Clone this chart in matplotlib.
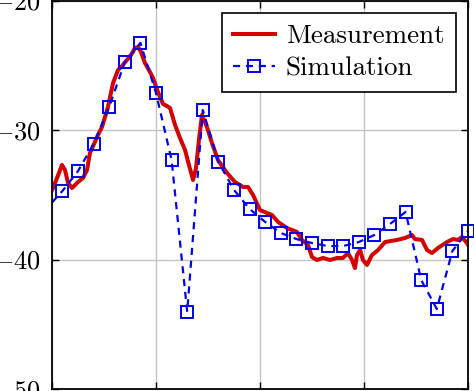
import matplotlib
matplotlib.use("Agg")
import matplotlib.pyplot as plt

# =========================
# data
# =========================

meas_x = [0.000, 0.010, 0.048, 0.096, 0.125, 0.154, 0.192, 0.250, 0.298, 0.337,
          0.365, 0.404, 0.442, 0.481, 0.538, 0.587, 0.635, 0.673, 0.721, 0.760,
          0.798, 0.827, 0.856, 0.894, 0.942, 0.971, 1.019, 1.067, 1.106, 1.135,
          1.183, 1.231, 1.279, 1.317, 1.356, 1.385, 1.413, 1.442, 1.490, 1.538,
          1.596, 1.683, 1.760, 1.837, 1.885, 1.933, 2.000, 2.067, 2.115, 2.173,
          2.260, 2.356, 2.404, 2.462, 2.500, 2.548, 2.606, 2.673, 2.740, 2.798,
          2.846, 2.885, 2.913, 2.933, 2.962, 2.990, 3.029, 3.077, 3.135, 3.202,
          3.317, 3.394, 3.462, 3.490, 3.558, 3.606, 3.654, 3.712, 3.798, 3.856,
          3.904, 3.942, 3.990, 4.019]
meas_y = [-34.63, -34.48, -33.71, -32.70, -33.09, -34.09, -34.48, -34.02, -33.71, -33.09,
          -31.78, -31.08, -30.39, -29.77, -28.22, -26.37, -25.37, -25.06, -24.59, -24.21,
          -23.67, -23.59, -23.98, -24.83, -25.52, -25.98, -27.07, -27.99, -28.15, -28.30,
          -29.61, -30.62, -31.54, -32.70, -33.86, -32.93, -30.77, -28.84, -29.77, -31.00,
          -32.32, -33.32, -34.02, -34.40, -34.40, -35.02, -36.18, -36.41, -36.56, -37.10,
          -37.57, -37.88, -38.50, -38.88, -39.81, -40.04, -39.88, -40.04, -39.88, -39.88,
          -39.50, -40.04, -40.66, -39.65, -39.27, -40.04, -40.42, -39.65, -39.27, -38.65,
          -38.49, -38.34, -38.11, -38.42, -38.49, -39.27, -39.50, -39.11, -38.65, -38.42,
          -38.49, -38.26, -38.73, -39.11]

sim_x = [0.00, 0.10, 0.25, 0.40, 0.55, 0.70, 0.85, 1.00, 1.15, 1.30, 1.45,
         1.60, 1.75, 1.90, 2.05, 2.20, 2.35, 2.50, 2.65, 2.80, 2.95,
         3.10, 3.25, 3.40, 3.55, 3.70, 3.85, 4.00]
sim_y = [-35.60, -34.71, -33.17, -31.08, -28.22, -24.75, -23.28, -27.14, -32.32, -44.05, -28.46,
         -32.47, -34.63, -36.10, -37.10, -37.95, -38.42, -38.73, -38.96, -38.96, -38.65,
         -38.11, -37.26, -36.33, -41.58, -43.82, -39.34, -37.80]

y_ticks = [-50, -40, -30, -20]
x_ticks = [0, 1, 2, 3, 4]

# =========================
# style
# =========================

plt.rcParams["font.family"] = "serif"
plt.rcParams["font.serif"] = ["cmr10"]
plt.rcParams["mathtext.fontset"] = "cm"
plt.rcParams["axes.formatter.use_mathtext"] = True
plt.rcParams["font.size"] = 19

fig = plt.figure(figsize=(4.74, 3.91), dpi=100)
ax = fig.add_axes([52 / 474, 2 / 391, 416 / 474, 388.5 / 391])

ax.plot(meas_x, meas_y, color="#d40000", linewidth=2.9, label="Measurement")

ax.plot(sim_x, sim_y, color="#0000ee", linewidth=1.6, dashes=(3.2, 2.6),
        marker="s", markersize=8.6, markerfacecolor="none",
        markeredgewidth=1.4, markevery=slice(1, None), clip_on=False,
        label="Simulation")

ax.set_xlim(0, 4)
ax.set_ylim(-50, -20)
ax.set_xticks(x_ticks)
ax.set_yticks(y_ticks)

ax.grid(True, color="#c4c4c4", linewidth=1.0)
ax.set_axisbelow(True)

ax.tick_params(direction="in", length=5, width=1, pad=8,
               right=True, top=True)
ax.set_xticklabels([])

for s in ax.spines.values():
    s.set_color("black")
    s.set_linewidth(1.3)

leg = ax.legend(loc="upper right", bbox_to_anchor=(0.971, 0.968),
                fancybox=False, framealpha=1, edgecolor="black",
                fontsize=19.5, handlelength=1.55, handletextpad=0.4,
                borderpad=0.42, labelspacing=0.3, borderaxespad=0,
                numpoints=1)
leg.get_frame().set_linewidth(1.2)

fig.savefig("out.png", dpi=100)
